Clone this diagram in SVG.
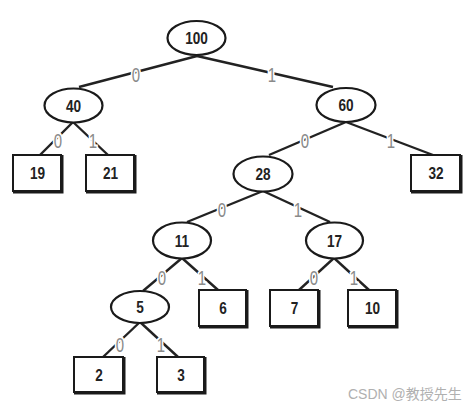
<svg xmlns="http://www.w3.org/2000/svg" width="474" height="409" viewBox="0 0 474 409">
<style>
.e{fill:#fff;stroke:#1a1a1a;stroke-width:2.2}
.b{fill:#fff;stroke:#1a1a1a;stroke-width:2}
.s{fill:none;stroke:#1a1a1a;stroke-width:3}
.c line{stroke:#222;stroke-width:2.4}
.t{font-family:"Liberation Sans",Arial,sans-serif;font-weight:bold;font-size:16px;fill:#222;text-anchor:middle}
.l{font-family:"Liberation Sans",Arial,sans-serif;font-size:20px;fill:#8a8a8a;text-anchor:middle;stroke:#fff;stroke-width:4;paint-order:stroke}
.w{font-family:"Liberation Sans","Noto Sans CJK SC",sans-serif;font-size:14px;fill:#b0b0b0}
</style>
<rect width="474" height="409" fill="#fff"/>
<g class="c" id="connectors">
<line x1="197" y1="56" x2="79" y2="87"/>
<line x1="197" y1="56" x2="333" y2="87"/>
<line x1="73" y1="122" x2="40" y2="155"/>
<line x1="73" y1="122" x2="108" y2="155"/>
<line x1="346" y1="122" x2="269" y2="155"/>
<line x1="346" y1="122" x2="433" y2="155"/>
<line x1="263" y1="191" x2="187" y2="222"/>
<line x1="263" y1="191" x2="330" y2="222"/>
<line x1="182" y1="258" x2="143" y2="291"/>
<line x1="182" y1="258" x2="218" y2="290"/>
<line x1="334" y1="258" x2="299" y2="290"/>
<line x1="334" y1="258" x2="369" y2="290"/>
<line x1="140" y1="322" x2="103" y2="357"/>
<line x1="140" y1="322" x2="178" y2="357"/>
<g transform="scale(0.75,1)">
<text class="l" x="181.3" y="82">0</text>
<text class="l" x="362.7" y="82">1</text>
<text class="l" x="77.3" y="148">0</text>
<text class="l" x="124" y="148">1</text>
<text class="l" x="406.7" y="148">0</text>
<text class="l" x="521.3" y="148">1</text>
<text class="l" x="296" y="217">0</text>
<text class="l" x="397.3" y="217">1</text>
<text class="l" x="216" y="285">0</text>
<text class="l" x="269.3" y="285">1</text>
<text class="l" x="418.7" y="285">0</text>
<text class="l" x="472" y="285">1</text>
<text class="l" x="160" y="352">0</text>
<text class="l" x="214.7" y="352">1</text>
</g>
</g>
<g id="n100"><ellipse class="e" cx="196.5" cy="38" rx="29" ry="17"/><text class="t" transform="translate(196.5,44) scale(0.85,1)">100</text></g>
<g id="n40"><ellipse class="e" cx="73.5" cy="105.5" rx="29" ry="17"/><text class="t" transform="translate(73.5,111.5) scale(0.85,1)">40</text></g>
<g id="n60"><ellipse class="e" cx="346" cy="105" rx="29.5" ry="17"/><text class="t" transform="translate(346,111) scale(0.85,1)">60</text></g>
<g id="n19"><rect class="b" x="13" y="155" width="48" height="36"/><polyline class="s" points="62,155 62,192 13,192"/><text class="t" transform="translate(37.5,179) scale(0.85,1)">19</text></g>
<g id="n21"><rect class="b" x="86" y="155" width="48" height="36"/><polyline class="s" points="135,155 135,192 86,192"/><text class="t" transform="translate(110.5,179) scale(0.85,1)">21</text></g>
<g id="n32"><rect class="b" x="411" y="155" width="49" height="36"/><polyline class="s" points="461,155 461,192 411,192"/><text class="t" transform="translate(436,179) scale(0.85,1)">32</text></g>
<g id="n28"><ellipse class="e" cx="263" cy="174" rx="29.5" ry="17.5"/><text class="t" transform="translate(263,180) scale(0.85,1)">28</text></g>
<g id="n11"><ellipse class="e" cx="182" cy="240.5" rx="29" ry="18"/><text class="t" transform="translate(182,246.5) scale(0.85,1)">11</text></g>
<g id="n17"><ellipse class="e" cx="334.5" cy="240.5" rx="28.5" ry="18"/><text class="t" transform="translate(334.5,246.5) scale(0.85,1)">17</text></g>
<g id="n5"><ellipse class="e" cx="140" cy="307" rx="29" ry="16"/><text class="t" transform="translate(140,313) scale(0.85,1)">5</text></g>
<g id="n6"><rect class="b" x="199" y="290" width="47" height="36"/><polyline class="s" points="247,290 247,327 199,327"/><text class="t" transform="translate(223,314) scale(0.85,1)">6</text></g>
<g id="n7"><rect class="b" x="270" y="290" width="48" height="36"/><polyline class="s" points="319,290 319,327 270,327"/><text class="t" transform="translate(294.5,314) scale(0.85,1)">7</text></g>
<g id="n10"><rect class="b" x="348" y="290" width="48" height="36"/><polyline class="s" points="397,290 397,327 348,327"/><text class="t" transform="translate(372.5,314) scale(0.85,1)">10</text></g>
<g id="n2"><rect class="b" x="74" y="357" width="49" height="35"/><polyline class="s" points="124,357 124,393 74,393"/><text class="t" transform="translate(99,381) scale(0.85,1)">2</text></g>
<g id="n3"><rect class="b" x="157" y="357" width="47" height="35"/><polyline class="s" points="205,357 205,393 157,393"/><text class="t" transform="translate(181,381) scale(0.85,1)">3</text></g>
<text class="w" x="348" y="399">CSDN @教授先生</text>
</svg>
